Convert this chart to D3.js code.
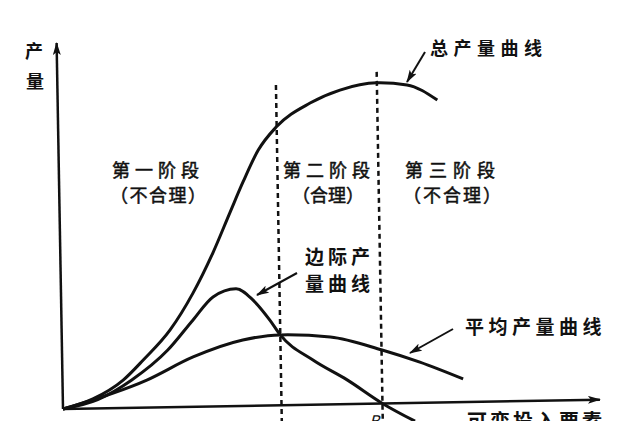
<!DOCTYPE html>
<html>
<head>
<meta charset="utf-8">
<script src="https://cdn.jsdelivr.net/npm/d3@7"></script>
<style>
  html, body { margin: 0; padding: 0; background: #fff; }
  svg { display: block; }
  text { font-family: "Noto Sans CJK SC", sans-serif; fill: #111; }
</style>
</head>
<body>
<script>
// ========== Data ==========
// variable input (x) and output (y)
const tpX = [0, 5.6, 11.3, 15.1, 20.2, 24.6, 28.4, 31.7, 34.3, 37.2, 40.6, 47.0, 52.6, 59.5, 65.1, 70.7];
const tpY = [0, 2.6, 7.6, 13.0, 21.1, 31.1, 41.9, 52.8, 61.3, 69.8, 76.0, 82.4, 85.8, 87.6, 86.9, 82.6];

const mpX = [0, 6.5, 12.9, 19.7, 24.5, 28.3, 32.6, 35.7, 38.8, 40.7, 46.7, 53.0, 59.5, 65.5];
const mpY = [0, 2.4, 7.6, 15.6, 23.7, 29.9, 32.0, 28.9, 23.3, 19.2, 12.2, 6.6, 0, -5.0];

const apX = [0, 15.7, 24.4, 33.7, 40.7, 50.0, 59.6, 66.6, 74.6];
const apY = [0, 7.5, 13.6, 18.0, 19.2, 18.4, 14.6, 11.1, 6.3];

// stage boundaries (x) and top of dashed lines (y)
const stageX = [40.7, 59.5];
const stageTop = [87.5, 90.6];

const stageLabels = [
  {line1: '第一阶段', line2: '（不合理）', x1: 112, x2: 110, sp1: 5, sp2: 1.5},
  {line1: '第二阶段', line2: '（合理）', x1: 283, x2: 292, sp1: 5, sp2: 0},
  {line1: '第三阶段', line2: '（不合理）', x1: 405, x2: 403, sp1: 6, sp2: 2}
];

// ========== Config ==========
const width = 640, height = 421;
const origin = {x: 63, y: 409};

const svg = d3.select('body').append('svg')
  .attr('width', width)
  .attr('height', height);

const defs = svg.append('defs');
defs.append('marker')
  .attr('id', 'head')
  .attr('viewBox', '0 0 13 8')
  .attr('refX', 12).attr('refY', 4)
  .attr('markerWidth', 13).attr('markerHeight', 8)
  .attr('markerUnits', 'userSpaceOnUse')
  .attr('orient', 'auto')
  .append('path')
  .attr('d', 'M0,0 L13,4 L0,8 L3,4 Z')
  .attr('fill', '#111');

// ========== Scales ==========
const x = d3.scaleLinear().domain([0, 100]).range([origin.x, 600]);
const y = d3.scaleLinear().domain([0, 100]).range([origin.y, 43]);

// the scan is tilted about one degree
const plot = svg.append('g')
  .attr('transform', `rotate(-1, ${origin.x}, ${origin.y})`);

// ========== Axes ==========
plot.append('line')
  .attr('x1', x(0)).attr('y1', y(0))
  .attr('x2', x(0)).attr('y2', y(100))
  .attr('stroke', '#111').attr('stroke-width', 2.5)
  .attr('marker-end', 'url(#head)');

plot.append('line')
  .attr('x1', x(0)).attr('y1', y(0))
  .attr('x2', x(100)).attr('y2', y(0))
  .attr('stroke', '#111').attr('stroke-width', 2.5)
  .attr('marker-end', 'url(#head)');

// ========== Stage dividers ==========
plot.selectAll('.divider')
  .data(stageX)
  .join('line')
  .attr('class', 'divider')
  .attr('x1', d => x(d)).attr('x2', d => x(d))
  .attr('y1', (d, i) => y(stageTop[i]))
  .attr('y2', y(-6))
  .attr('stroke', '#111')
  .attr('stroke-width', 2.5)
  .attr('stroke-dasharray', '5,4');

// ========== Curves ==========
const line = d3.line()
  .x(d => x(d[0]))
  .y(d => y(d[1]))
  .curve(d3.curveMonotoneX);

[[tpX, tpY], [mpX, mpY], [apX, apY]].forEach(([xs, ys]) => {
  plot.append('path')
    .attr('d', line(d3.zip(xs, ys)))
    .attr('fill', 'none')
    .attr('stroke', '#111')
    .attr('stroke-width', 3);
});

// ========== Labels ==========
const labels = svg.append('g');

stageLabels.forEach(s => {
  labels.append('text')
    .attr('x', s.x1).attr('y', 169)
    .attr('dominant-baseline', 'central')
    .attr('font-size', 18)
    .attr('letter-spacing', s.sp1)
    .attr('stroke', '#111').attr('stroke-width', 0.5)
    .text(s.line1);
  labels.append('text')
    .attr('x', s.x2).attr('y', 194)
    .attr('dominant-baseline', 'central')
    .attr('font-size', 18)
    .attr('letter-spacing', s.sp2)
    .attr('stroke', '#111').attr('stroke-width', 0.5)
    .text(s.line2);
});

// y axis label
labels.append('text').attr('x', 25).attr('y', 50)
  .attr('dominant-baseline', 'central')
  .attr('font-size', 18).attr('font-weight', 'bold')
  .text('产');
labels.append('text').attr('x', 26).attr('y', 80)
  .attr('dominant-baseline', 'central')
  .attr('font-size', 18).attr('font-weight', 'bold')
  .text('量');

// curve names with pointer arrows
const notes = [
  {text: ['总产量曲线'], x: 430, y: 47, sp: 5.5, size: 18, from: [425, 52], to: [407, 82]},
  {text: ['边际产', '量曲线'], x: 305, y: 255, sp: 4, size: 19, from: [297, 273], to: [257, 295]},
  {text: ['平均产量曲线'], x: 465, y: 325, sp: 4.5, size: 19, from: [453, 329], to: [410, 353]}
];

notes.forEach(n => {
  n.text.forEach((t, i) => {
    labels.append('text')
      .attr('x', n.x).attr('y', n.y + i * 27)
      .attr('dominant-baseline', 'central')
      .attr('font-size', n.size)
      .attr('font-weight', 'bold')
      .attr('letter-spacing', n.sp)
      .text(t);
  });
  labels.append('line')
    .attr('x1', n.from[0]).attr('y1', n.from[1])
    .attr('x2', n.to[0]).attr('y2', n.to[1])
    .attr('stroke', '#111').attr('stroke-width', 2)
    .attr('marker-end', 'url(#head)');
});

// x axis label, cut by the bottom edge
labels.append('text')
  .attr('x', 467).attr('y', 429)
  .attr('font-size', 20)
  .attr('font-weight', 'bold')
  .attr('letter-spacing', 3)
  .text('可变投入要素');

labels.append('text')
  .attr('x', 369).attr('y', 427)
  .attr('font-size', 16)
  .attr('font-style', 'italic')
  .attr('font-family', 'Liberation Serif, serif')
  .text('B');
</script>
</body>
</html>
